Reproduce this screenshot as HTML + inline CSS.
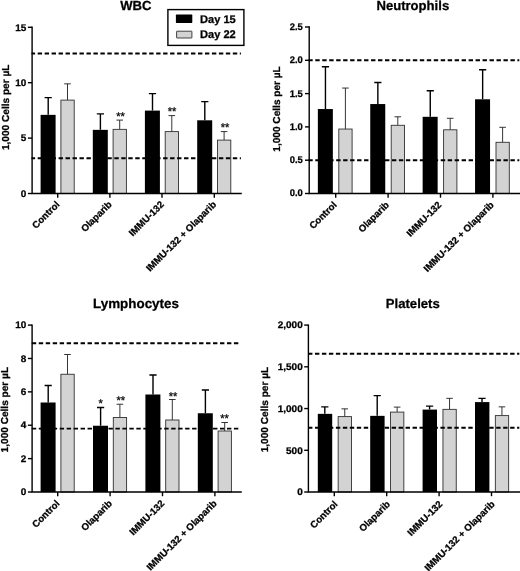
<!DOCTYPE html>
<html lang="en"><head><meta charset="utf-8"><title>Blood cell counts</title>
<style>
html,body{margin:0;padding:0;background:#fff;}
body{width:520px;height:571px;overflow:hidden;}
svg{display:block;font-family:"Liberation Sans", Arial, sans-serif;}
text{fill:#000;text-rendering:geometricPrecision;}
.b text,text.b{stroke:#000;stroke-width:0.28px;}
</style></head><body>
<svg width="520" height="571" viewBox="0 0 520 571">
<rect width="520" height="571" fill="#fff"/>
<path d="M48.20 114.85V97.60M44.60 97.60H51.80" stroke="#000" stroke-width="1.4" fill="none"/>
<rect x="40.60" y="114.85" width="15.0" height="78.65" fill="#000"/>
<path d="M67.50 100.10V83.85M64.20 83.85H70.80" stroke="#2a2a2a" stroke-width="0.95" fill="none"/>
<rect x="60.90" y="100.10" width="13.3" height="93.40" fill="#d3d3d3" stroke="#303030" stroke-width="0.9"/>
<path d="M100.40 129.85V113.85M96.80 113.85H104.00" stroke="#000" stroke-width="1.4" fill="none"/>
<rect x="92.80" y="129.85" width="15.0" height="63.65" fill="#000"/>
<path d="M119.70 129.35V120.10M116.40 120.10H123.00" stroke="#2a2a2a" stroke-width="0.95" fill="none"/>
<rect x="113.10" y="129.35" width="13.3" height="64.15" fill="#d3d3d3" stroke="#303030" stroke-width="0.9"/>
<path d="M152.50 110.60V93.60M148.90 93.60H156.10" stroke="#000" stroke-width="1.4" fill="none"/>
<rect x="144.90" y="110.60" width="15.0" height="82.90" fill="#000"/>
<path d="M171.80 131.60V115.60M168.50 115.60H175.10" stroke="#2a2a2a" stroke-width="0.95" fill="none"/>
<rect x="165.20" y="131.60" width="13.3" height="61.90" fill="#d3d3d3" stroke="#303030" stroke-width="0.9"/>
<path d="M204.80 120.30V101.60M201.20 101.60H208.40" stroke="#000" stroke-width="1.4" fill="none"/>
<rect x="197.20" y="120.30" width="15.0" height="73.20" fill="#000"/>
<path d="M224.10 140.10V131.60M220.80 131.60H227.40" stroke="#2a2a2a" stroke-width="0.95" fill="none"/>
<rect x="217.50" y="140.10" width="13.3" height="53.40" fill="#d3d3d3" stroke="#303030" stroke-width="0.9"/>
<path d="M31.50 53.40H240.90" stroke="#000" stroke-width="1.95" stroke-dasharray="4.4 2.57" stroke-dashoffset="0.80" fill="none"/>
<path d="M31.50 158.20H240.90" stroke="#000" stroke-width="1.95" stroke-dasharray="4.4 2.57" stroke-dashoffset="0.80" fill="none"/>
<path d="M32.10 26.60V193.50H241.80" stroke="#000" stroke-width="1.4" fill="none" stroke-linejoin="miter"/>
<path d="M27.90 27.30H32.10" stroke="#000" stroke-width="1.4"/>
<text transform="translate(26.40 30.60) scale(1.035 1)" font-size="9.65" class="b" font-weight="bold" text-anchor="end">15</text>
<path d="M27.90 82.70H32.10" stroke="#000" stroke-width="1.4"/>
<text transform="translate(26.40 86.00) scale(1.035 1)" font-size="9.65" class="b" font-weight="bold" text-anchor="end">10</text>
<path d="M27.90 138.10H32.10" stroke="#000" stroke-width="1.4"/>
<text transform="translate(26.40 141.40) scale(1.035 1)" font-size="9.65" class="b" font-weight="bold" text-anchor="end">5</text>
<path d="M27.90 193.50H32.10" stroke="#000" stroke-width="1.4"/>
<text transform="translate(26.40 196.80) scale(1.035 1)" font-size="9.65" class="b" font-weight="bold" text-anchor="end">0</text>
<path d="M57.70 193.50V197.70" stroke="#000" stroke-width="1.4"/>
<text transform="translate(60.20 205.10) rotate(-45)" font-size="9.6" class="b" font-weight="bold" text-anchor="end">Control</text>
<path d="M109.90 193.50V197.70" stroke="#000" stroke-width="1.4"/>
<text transform="translate(112.40 205.10) rotate(-45)" font-size="9.6" class="b" font-weight="bold" text-anchor="end">Olaparib</text>
<path d="M162.00 193.50V197.70" stroke="#000" stroke-width="1.4"/>
<text transform="translate(164.50 205.10) rotate(-45)" font-size="9.6" class="b" font-weight="bold" text-anchor="end">IMMU-132</text>
<path d="M214.30 193.50V197.70" stroke="#000" stroke-width="1.4"/>
<text transform="translate(216.80 205.10) rotate(-45)" font-size="9.6" class="b" font-weight="bold" text-anchor="end">IMMU-132 + Olaparib</text>
<text transform="translate(9.05 107.30) rotate(-90)" font-size="10.1" class="b" font-weight="bold" text-anchor="middle">1,000 Cells per µL</text>
<text x="135.90" y="10.30" font-size="13.1" class="b" font-weight="bold" text-anchor="middle">WBC</text>
<text x="120.50" y="119.50" font-size="11.2" fill="#000" stroke="#000" stroke-width="0.25" text-anchor="middle">**</text>
<text x="172.00" y="115.40" font-size="11.2" fill="#000" stroke="#000" stroke-width="0.25" text-anchor="middle">**</text>
<text x="225.00" y="130.70" font-size="11.2" fill="#000" stroke="#000" stroke-width="0.25" text-anchor="middle">**</text>
<rect x="167.9" y="9.6" width="76" height="35.8" fill="#fff" stroke="#000" stroke-width="1.4"/>
<rect x="175.9" y="14.6" width="16.4" height="8.3" rx="0.6" fill="#000"/>
<rect x="176.6" y="31.2" width="15.3" height="6.8" rx="0.3" fill="#d3d3d3" stroke="#303030" stroke-width="0.9"/>
<text x="200" y="22.6" font-size="11.1" class="b" font-weight="bold">Day 15</text>
<text x="200" y="37.8" font-size="11.1" class="b" font-weight="bold">Day 22</text>
<path d="M325.45 109.05V66.80M321.85 66.80H329.05" stroke="#000" stroke-width="1.4" fill="none"/>
<rect x="317.85" y="109.05" width="15.0" height="84.45" fill="#000"/>
<path d="M345.40 129.05V88.05M342.10 88.05H348.70" stroke="#2a2a2a" stroke-width="0.95" fill="none"/>
<rect x="338.80" y="129.05" width="13.3" height="64.45" fill="#d3d3d3" stroke="#303030" stroke-width="0.9"/>
<path d="M377.85 104.05V82.55M374.25 82.55H381.45" stroke="#000" stroke-width="1.4" fill="none"/>
<rect x="370.25" y="104.05" width="15.0" height="89.45" fill="#000"/>
<path d="M397.80 125.30V116.80M394.50 116.80H401.10" stroke="#2a2a2a" stroke-width="0.95" fill="none"/>
<rect x="391.20" y="125.30" width="13.3" height="68.20" fill="#d3d3d3" stroke="#303030" stroke-width="0.9"/>
<path d="M430.25 116.80V90.80M426.65 90.80H433.85" stroke="#000" stroke-width="1.4" fill="none"/>
<rect x="422.65" y="116.80" width="15.0" height="76.70" fill="#000"/>
<path d="M450.20 129.80V118.30M446.90 118.30H453.50" stroke="#2a2a2a" stroke-width="0.95" fill="none"/>
<rect x="443.60" y="129.80" width="13.3" height="63.70" fill="#d3d3d3" stroke="#303030" stroke-width="0.9"/>
<path d="M482.65 99.30V69.80M479.05 69.80H486.25" stroke="#000" stroke-width="1.4" fill="none"/>
<rect x="475.05" y="99.30" width="15.0" height="94.20" fill="#000"/>
<path d="M502.60 142.30V127.30M499.30 127.30H505.90" stroke="#2a2a2a" stroke-width="0.95" fill="none"/>
<rect x="496.00" y="142.30" width="13.3" height="51.20" fill="#d3d3d3" stroke="#303030" stroke-width="0.9"/>
<path d="M308.60 60.30H519.30" stroke="#000" stroke-width="1.95" stroke-dasharray="4.4 2.57" stroke-dashoffset="0.30" fill="none"/>
<path d="M308.60 160.20H519.30" stroke="#000" stroke-width="1.95" stroke-dasharray="4.4 2.57" stroke-dashoffset="0.30" fill="none"/>
<path d="M309.20 26.30V193.50H521.00" stroke="#000" stroke-width="1.4" fill="none" stroke-linejoin="miter"/>
<path d="M305.00 27.00H309.20" stroke="#000" stroke-width="1.4"/>
<text transform="translate(302.80 29.90) scale(0.975 1)" font-size="9.65" class="b" font-weight="bold" text-anchor="end">2.5</text>
<path d="M305.00 60.30H309.20" stroke="#000" stroke-width="1.4"/>
<text transform="translate(302.80 63.20) scale(0.975 1)" font-size="9.65" class="b" font-weight="bold" text-anchor="end">2.0</text>
<path d="M305.00 93.60H309.20" stroke="#000" stroke-width="1.4"/>
<text transform="translate(302.80 96.50) scale(0.975 1)" font-size="9.65" class="b" font-weight="bold" text-anchor="end">1.5</text>
<path d="M305.00 126.90H309.20" stroke="#000" stroke-width="1.4"/>
<text transform="translate(302.80 129.80) scale(0.975 1)" font-size="9.65" class="b" font-weight="bold" text-anchor="end">1.0</text>
<path d="M305.00 160.20H309.20" stroke="#000" stroke-width="1.4"/>
<text transform="translate(302.80 163.10) scale(0.975 1)" font-size="9.65" class="b" font-weight="bold" text-anchor="end">0.5</text>
<path d="M305.00 193.50H309.20" stroke="#000" stroke-width="1.4"/>
<text transform="translate(302.80 196.40) scale(0.975 1)" font-size="9.65" class="b" font-weight="bold" text-anchor="end">0.0</text>
<path d="M335.70 193.50V197.70" stroke="#000" stroke-width="1.4"/>
<text transform="translate(337.30 205.50) rotate(-45)" font-size="9.6" class="b" font-weight="bold" text-anchor="end">Control</text>
<path d="M388.10 193.50V197.70" stroke="#000" stroke-width="1.4"/>
<text transform="translate(389.70 205.50) rotate(-45)" font-size="9.6" class="b" font-weight="bold" text-anchor="end">Olaparib</text>
<path d="M440.50 193.50V197.70" stroke="#000" stroke-width="1.4"/>
<text transform="translate(442.10 205.50) rotate(-45)" font-size="9.6" class="b" font-weight="bold" text-anchor="end">IMMU-132</text>
<path d="M492.90 193.50V197.70" stroke="#000" stroke-width="1.4"/>
<text transform="translate(494.50 205.50) rotate(-45)" font-size="9.6" class="b" font-weight="bold" text-anchor="end">IMMU-132 + Olaparib</text>
<text transform="translate(280.20 108.95) rotate(-90)" font-size="10.1" class="b" font-weight="bold" text-anchor="middle">1,000 Cells per µL</text>
<text x="412.80" y="10.30" font-size="13.1" class="b" font-weight="bold" text-anchor="middle">Neutrophils</text>
<path d="M48.20 402.50V385.50M44.60 385.50H51.80" stroke="#000" stroke-width="1.4" fill="none"/>
<rect x="40.60" y="402.50" width="15.0" height="89.50" fill="#000"/>
<path d="M67.50 374.25V354.50M64.20 354.50H70.80" stroke="#2a2a2a" stroke-width="0.95" fill="none"/>
<rect x="60.90" y="374.25" width="13.3" height="117.75" fill="#d3d3d3" stroke="#303030" stroke-width="0.9"/>
<path d="M100.60 425.75V407.50M97.00 407.50H104.20" stroke="#000" stroke-width="1.4" fill="none"/>
<rect x="93.00" y="425.75" width="15.0" height="66.25" fill="#000"/>
<path d="M119.90 417.50V404.25M116.60 404.25H123.20" stroke="#2a2a2a" stroke-width="0.95" fill="none"/>
<rect x="113.30" y="417.50" width="13.3" height="74.50" fill="#d3d3d3" stroke="#303030" stroke-width="0.9"/>
<path d="M153.00 394.50V375.00M149.40 375.00H156.60" stroke="#000" stroke-width="1.4" fill="none"/>
<rect x="145.40" y="394.50" width="15.0" height="97.50" fill="#000"/>
<path d="M172.30 420.00V399.50M169.00 399.50H175.60" stroke="#2a2a2a" stroke-width="0.95" fill="none"/>
<rect x="165.70" y="420.00" width="13.3" height="72.00" fill="#d3d3d3" stroke="#303030" stroke-width="0.9"/>
<path d="M205.40 413.25V390.00M201.80 390.00H209.00" stroke="#000" stroke-width="1.4" fill="none"/>
<rect x="197.80" y="413.25" width="15.0" height="78.75" fill="#000"/>
<path d="M224.70 431.00V422.50M221.40 422.50H228.00" stroke="#2a2a2a" stroke-width="0.95" fill="none"/>
<rect x="218.10" y="431.00" width="13.3" height="61.00" fill="#d3d3d3" stroke="#303030" stroke-width="0.9"/>
<path d="M31.50 343.30H240.90" stroke="#000" stroke-width="1.95" stroke-dasharray="4.4 2.57" stroke-dashoffset="-0.30" fill="none"/>
<path d="M31.50 428.60H240.90" stroke="#000" stroke-width="1.95" stroke-dasharray="4.4 2.57" stroke-dashoffset="-0.30" fill="none"/>
<path d="M32.10 324.40V492.00H241.80" stroke="#000" stroke-width="1.4" fill="none" stroke-linejoin="miter"/>
<path d="M27.90 325.10H32.10" stroke="#000" stroke-width="1.4"/>
<text transform="translate(26.40 328.20) scale(1.035 1)" font-size="9.65" class="b" font-weight="bold" text-anchor="end">10</text>
<path d="M27.90 358.48H32.10" stroke="#000" stroke-width="1.4"/>
<text transform="translate(26.40 361.58) scale(1.035 1)" font-size="9.65" class="b" font-weight="bold" text-anchor="end">8</text>
<path d="M27.90 391.86H32.10" stroke="#000" stroke-width="1.4"/>
<text transform="translate(26.40 394.96) scale(1.035 1)" font-size="9.65" class="b" font-weight="bold" text-anchor="end">6</text>
<path d="M27.90 425.24H32.10" stroke="#000" stroke-width="1.4"/>
<text transform="translate(26.40 428.34) scale(1.035 1)" font-size="9.65" class="b" font-weight="bold" text-anchor="end">4</text>
<path d="M27.90 458.62H32.10" stroke="#000" stroke-width="1.4"/>
<text transform="translate(26.40 461.72) scale(1.035 1)" font-size="9.65" class="b" font-weight="bold" text-anchor="end">2</text>
<path d="M27.90 492.00H32.10" stroke="#000" stroke-width="1.4"/>
<text transform="translate(26.40 495.10) scale(1.035 1)" font-size="9.65" class="b" font-weight="bold" text-anchor="end">0</text>
<path d="M57.70 492.00V496.20" stroke="#000" stroke-width="1.4"/>
<text transform="translate(60.20 504.10) rotate(-45)" font-size="9.6" class="b" font-weight="bold" text-anchor="end">Control</text>
<path d="M110.10 492.00V496.20" stroke="#000" stroke-width="1.4"/>
<text transform="translate(112.60 504.10) rotate(-45)" font-size="9.6" class="b" font-weight="bold" text-anchor="end">Olaparib</text>
<path d="M162.50 492.00V496.20" stroke="#000" stroke-width="1.4"/>
<text transform="translate(165.00 504.10) rotate(-45)" font-size="9.6" class="b" font-weight="bold" text-anchor="end">IMMU-132</text>
<path d="M214.90 492.00V496.20" stroke="#000" stroke-width="1.4"/>
<text transform="translate(217.40 504.10) rotate(-45)" font-size="9.6" class="b" font-weight="bold" text-anchor="end">IMMU-132 + Olaparib</text>
<text transform="translate(8.30 409.65) rotate(-90)" font-size="10.1" class="b" font-weight="bold" text-anchor="middle">1,000 Cells per µL</text>
<text x="136.00" y="307.80" font-size="13.4" class="b" font-weight="bold" text-anchor="middle">Lymphocytes</text>
<text x="100.80" y="407.20" font-size="11.2" fill="#000" stroke="#000" stroke-width="0.25" text-anchor="middle">*</text>
<text x="120.80" y="404.20" font-size="11.2" fill="#000" stroke="#000" stroke-width="0.25" text-anchor="middle">**</text>
<text x="173.00" y="399.70" font-size="11.2" fill="#000" stroke="#000" stroke-width="0.25" text-anchor="middle">**</text>
<text x="224.60" y="422.30" font-size="11.2" fill="#000" stroke="#000" stroke-width="0.25" text-anchor="middle">**</text>
<path d="M324.80 413.85V406.85M321.20 406.85H328.40" stroke="#000" stroke-width="1.4" fill="none"/>
<rect x="317.80" y="413.85" width="14.4" height="78.15" fill="#000"/>
<path d="M344.75 416.60V408.85M341.45 408.85H348.05" stroke="#2a2a2a" stroke-width="0.95" fill="none"/>
<rect x="338.15" y="416.60" width="13.3" height="75.40" fill="#d3d3d3" stroke="#303030" stroke-width="0.9"/>
<path d="M377.20 415.85V395.60M373.60 395.60H380.80" stroke="#000" stroke-width="1.4" fill="none"/>
<rect x="370.20" y="415.85" width="14.4" height="76.15" fill="#000"/>
<path d="M397.15 412.10V407.10M393.85 407.10H400.45" stroke="#2a2a2a" stroke-width="0.95" fill="none"/>
<rect x="390.55" y="412.10" width="13.3" height="79.90" fill="#d3d3d3" stroke="#303030" stroke-width="0.9"/>
<path d="M429.60 409.60V406.10M426.00 406.10H433.20" stroke="#000" stroke-width="1.4" fill="none"/>
<rect x="422.60" y="409.60" width="14.4" height="82.40" fill="#000"/>
<path d="M449.55 409.35V398.35M446.25 398.35H452.85" stroke="#2a2a2a" stroke-width="0.95" fill="none"/>
<rect x="442.95" y="409.35" width="13.3" height="82.65" fill="#d3d3d3" stroke="#303030" stroke-width="0.9"/>
<path d="M482.00 402.10V398.35M478.40 398.35H485.60" stroke="#000" stroke-width="1.4" fill="none"/>
<rect x="475.00" y="402.10" width="14.4" height="89.90" fill="#000"/>
<path d="M501.95 415.60V406.85M498.65 406.85H505.25" stroke="#2a2a2a" stroke-width="0.95" fill="none"/>
<rect x="495.35" y="415.60" width="13.3" height="76.40" fill="#d3d3d3" stroke="#303030" stroke-width="0.9"/>
<path d="M307.80 353.80H519.30" stroke="#000" stroke-width="1.95" stroke-dasharray="4.4 2.57" stroke-dashoffset="-0.20" fill="none"/>
<path d="M307.80 427.80H519.30" stroke="#000" stroke-width="1.95" stroke-dasharray="4.4 2.57" stroke-dashoffset="-0.20" fill="none"/>
<path d="M308.40 324.40V492.00H521.00" stroke="#000" stroke-width="1.4" fill="none" stroke-linejoin="miter"/>
<path d="M304.20 325.10H308.40" stroke="#000" stroke-width="1.4"/>
<text transform="translate(302.70 328.30) scale(1.035 1)" font-size="9.65" class="b" font-weight="bold" text-anchor="end">2,000</text>
<path d="M304.20 366.80H308.40" stroke="#000" stroke-width="1.4"/>
<text transform="translate(302.70 370.00) scale(1.035 1)" font-size="9.65" class="b" font-weight="bold" text-anchor="end">1,500</text>
<path d="M304.20 408.55H308.40" stroke="#000" stroke-width="1.4"/>
<text transform="translate(302.70 411.75) scale(1.035 1)" font-size="9.65" class="b" font-weight="bold" text-anchor="end">1,000</text>
<path d="M304.20 450.30H308.40" stroke="#000" stroke-width="1.4"/>
<text transform="translate(302.70 453.50) scale(1.035 1)" font-size="9.65" class="b" font-weight="bold" text-anchor="end">500</text>
<path d="M304.20 492.00H308.40" stroke="#000" stroke-width="1.4"/>
<text transform="translate(302.70 495.20) scale(1.035 1)" font-size="9.65" class="b" font-weight="bold" text-anchor="end">0</text>
<path d="M334.30 492.00V496.20" stroke="#000" stroke-width="1.4"/>
<text transform="translate(338.20 504.80) rotate(-45)" font-size="9.6" class="b" font-weight="bold" text-anchor="end">Control</text>
<path d="M386.70 492.00V496.20" stroke="#000" stroke-width="1.4"/>
<text transform="translate(390.60 504.80) rotate(-45)" font-size="9.6" class="b" font-weight="bold" text-anchor="end">Olaparib</text>
<path d="M439.10 492.00V496.20" stroke="#000" stroke-width="1.4"/>
<text transform="translate(443.00 504.80) rotate(-45)" font-size="9.6" class="b" font-weight="bold" text-anchor="end">IMMU-132</text>
<path d="M491.50 492.00V496.20" stroke="#000" stroke-width="1.4"/>
<text transform="translate(495.40 504.80) rotate(-45)" font-size="9.6" class="b" font-weight="bold" text-anchor="end">IMMU-132 + Olaparib</text>
<text transform="translate(267.50 409.55) rotate(-90)" font-size="10.1" class="b" font-weight="bold" text-anchor="middle">1,000 Cells per µL</text>
<text x="412.80" y="307.80" font-size="13.1" class="b" font-weight="bold" text-anchor="middle">Platelets</text>
</svg>
</body></html>
